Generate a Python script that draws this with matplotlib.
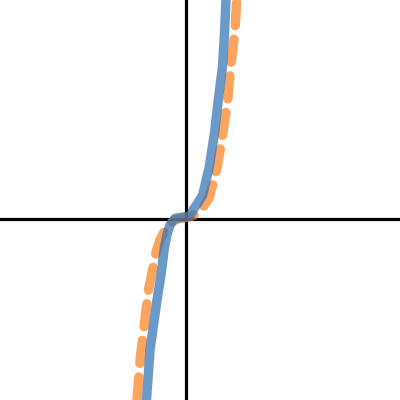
import matplotlib
matplotlib.use('Agg')
import matplotlib.pyplot as plt

# points (blue solid curve)
blue_x = [-0.975, -0.8875, -0.7125, -0.6125, -0.53, -0.46, -0.3875, -0.2625,
          -0.0625, 0.1125, 0.195, 0.32, 0.43, 0.595, 0.725, 0.82, 0.925,
          0.975, 1.0125]
blue_y = [-4.51, -3.2625, -2.0125, -1.3875, -0.72, -0.37, -0.1375, 0.03,
          0.06, 0.0875, 0.25, 0.43, 0.6125, 1.32, 2.1625, 2.9875, 3.82,
          4.6625, 5.4875]

# orange dashed curve
orange_x = [-1.2125, -1.125, -1.0, -0.925, -0.825, -0.73, -0.6375, -0.5125,
            -0.3875, -0.2375, -0.0625, 0.1375, 0.3125, 0.4375, 0.5875,
            0.7125, 0.795, 0.93, 1.055, 1.13, 1.2375, 1.28]
orange_y = [-4.5125, -3.4125, -2.3875, -1.7625, -1.2625, -0.7875, -0.5125,
            -0.2625, -0.0875, 0.0, 0.0375, 0.075, 0.1625, 0.3125, 0.5375,
            0.9875, 1.32, 2.1375, 2.9875, 3.82, 4.7375, 5.4875]

fig = plt.figure(figsize=(4, 4), dpi=100)
ax = fig.add_axes([0, 0, 1, 1])
ax.set_xlim(-4.6375, 5.3625)
ax.set_ylim(-4.5125, 5.4875)
ax.axis('off')

# axes through the origin
ax.axhline(0, color='black', lw=2.3, zorder=1)
ax.axvline(0, color='black', lw=2.3, zorder=1)

ax.plot(orange_x, orange_y, color='#fa7e19', alpha=0.7, lw=6.8,
        linestyle=(0, (2.45, 1.45)), dash_capstyle='round',
        solid_joinstyle='round', zorder=2)
ax.plot(blue_x, blue_y, color='#2d70b3', alpha=0.7, lw=6.8,
        solid_capstyle='round', solid_joinstyle='round', zorder=3)

fig.savefig('out.png', dpi=100)
